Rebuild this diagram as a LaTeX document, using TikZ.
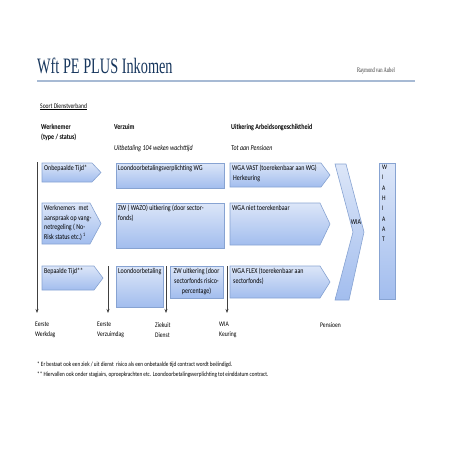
\documentclass[tikz,border=0pt]{standalone}
\usepackage{fontspec}
\setmainfont{Carlito}[FakeStretch=0.8]
\newfontfamily\titelfont{Liberation Serif}[FakeStretch=0.65]
\usetikzlibrary{arrows.meta}
\definecolor{vaklicht}{HTML}{DCE6F8}
\definecolor{vakdonker}{HTML}{A2BDEE}
\definecolor{vakrand}{HTML}{87A3D2}
\definecolor{lijnblauw}{HTML}{A7BAD4}
\definecolor{titelblauw}{HTML}{17365D}
\tikzstyle{vak} = [draw=vakrand, line width=0.6pt, top color=vaklicht, bottom color=vakdonker]
\tikzstyle{tekst} = [anchor=north west, inner sep=1pt, align=left, font=\fontsize{7.5}{9.7}\selectfont]
\tikzstyle{kop} = [anchor=north west, inner sep=0pt, align=left, font=\fontsize{7.5}{10}\selectfont]
\tikzstyle{pijl} = [-{Stealth[length=4pt,width=3pt]}, draw=black!75, line width=0.7pt]

\begin{document}
\begin{tikzpicture}[x=1pt, y=-1pt]

        \useasboundingbox (0,0) rectangle (453,453);

        % kop
        \node (titel) [anchor=base west, inner sep=0pt, text=titelblauw, font=\titelfont\fontsize{22}{24}\selectfont] at (37,73) {Wft PE PLUS Inkomen};
        \node (auteur) [anchor=base east, inner sep=0pt, text=black!80, font=\titelfont\fontsize{7}{8}\selectfont] at (395,72) {Raymond van Aubel};
        \draw[lijnblauw, line width=1.5pt] (37,81) -- (415,81);

        \node (soort) [kop, font=\fontsize{7}{9}\selectfont] at (40,103) {\underline{Soort Dienstverband}};

        \node (werknemer) [kop] at (41,124) {\textbf{Werknemer}\\\textbf{(type / status)}};
        \node (verzuim) [kop] at (114,124) {\textbf{Verzuim}};
        \node (uitkering) [kop] at (231,124) {\textbf{Uitkering Arbeidsongeschiktheid}};
        \node (wachttijd) [kop] at (114,145) {\textit{Uitbetaling 104 weken wachttijd}};
        \node (pensioentot) [kop] at (231,145) {\textit{Tot aan Pensioen}};

        % rij 1
        \draw[vak] (42,163) -- (92,163) -- (101,172.5) -- (92,182) -- (42,182) -- cycle;
        \node (onbepaald) [tekst] at (43,164) {Onbepaalde Tijd*};
        \draw[vak] (116,163) rectangle (224,188);
        \node (loonwg) [tekst] at (117,164) {Loondoorbetalingsverplichting WG};
        \draw[vak] (230,163) -- (321,163) -- (330,175) -- (321,187) -- (230,187) -- cycle;
        \node (wgavast) [tekst] at (231,164) {WGA VAST (toerekenbaar aan WG)\\\hspace{1pt}Herkeuring};

        % rij 2
        \draw[vak] (42,203) -- (90,203) -- (101,223.5) -- (90,244) -- (42,244) -- cycle;
        \node (vangnet) [tekst] at (43,204) {Werknemers\hspace{2pt} met\\aanspraak op vang-\\netregeling ( No-\\Risk status etc.)\,\textsuperscript{1}};
        \draw[vak] (116,203) rectangle (224,248);
        \node (wazo) [tekst] at (117,204) {ZW ( WAZO) uitkering (door sector-\\fonds)};
        \draw[vak] (230,203) -- (320,203) -- (330,224) -- (320,245) -- (230,245) -- cycle;
        \node (wganiet) [tekst] at (231,204) {WGA niet toerekenbaar};

        % rij 3
        \draw[vak] (42,266) -- (94,266) -- (103,278) -- (94,290) -- (42,290) -- cycle;
        \node (bepaald) [tekst] at (43,267) {Bepaalde Tijd**};
        \draw[vak] (116,266) rectangle (163,307);
        \node (loon) [tekst] at (117,267) {Loondoorbetaling};
        \draw[vak] (170,266) rectangle (223,298);
        \node (zw) [tekst, anchor=north, align=center] at (196.5,267) {ZW uitkering (door\\sectorfonds risico-\\percentage)};
        \draw[vak] (230,266) -- (320,266) -- (330,282) -- (320,298) -- (230,298) -- cycle;
        \node (wgaflex) [tekst] at (231,267) {WGA FLEX (toerekenbaar aan\\\hspace{1pt}sectorfonds)};

        % WIA
        \draw[vak] (335,164) -- (346,164) -- (364,232) -- (349,300) -- (335,300) -- (353,232) -- cycle;
        \node (wia) [tekst, anchor=center] at (356,222) {WIA};
        \draw[vak] (379,163) rectangle (395,299);
        \node (wiahiaat) [tekst, font=\fontsize{7}{10.3}\selectfont] at (381,164) {W\\I\\A\\H\\I\\A\\A\\T};

        % tijdlijn
        \coordinate (start1) at (37,162);
        \coordinate (eind1) at (37,313);
        \coordinate (start2) at (108,266);
        \coordinate (eind2) at (108,313);
        \coordinate (start3) at (166,266);
        \coordinate (eind3) at (166,313);
        \coordinate (start4) at (227,266);
        \coordinate (eind4) at (227,313);

        \draw[pijl] (start1) -- (eind1);
        \draw[pijl] (start2) -- (eind2);
        \draw[pijl] (start3) -- (eind3);
        \draw[pijl] (start4) -- (eind4);

        \node (werkdag) [kop, font=\fontsize{7}{10}\selectfont] at (35,322) {Eerste\\Werkdag};
        \node (verzuimdag) [kop, font=\fontsize{7}{10}\selectfont] at (97,322) {Eerste\\Verzuimdag};
        \node (dienst) [kop, font=\fontsize{7}{10}\selectfont] at (155,322) {Ziekuit\\Dienst};
        \node (keuring) [kop, font=\fontsize{7}{10}\selectfont] at (219,322) {WIA\\Keuring};
        \node (pensioen) [kop, font=\fontsize{7}{10}\selectfont] at (320,322) {Pensioen};

        % voetnoten
        \node (voetnoot) [kop, font=\fontsize{6.5}{10}\selectfont] at (37,362) {* Er bestaat ook een ziek / uit dienst \ risico als een onbetaalde tijd contract wordt beëindigd.\\** Hiervallen ook onder stagiairs, oproepkrachten etc. Loondoorbetalingsverplichting tot einddatum contract.};

    \end{tikzpicture}
\end{document}
